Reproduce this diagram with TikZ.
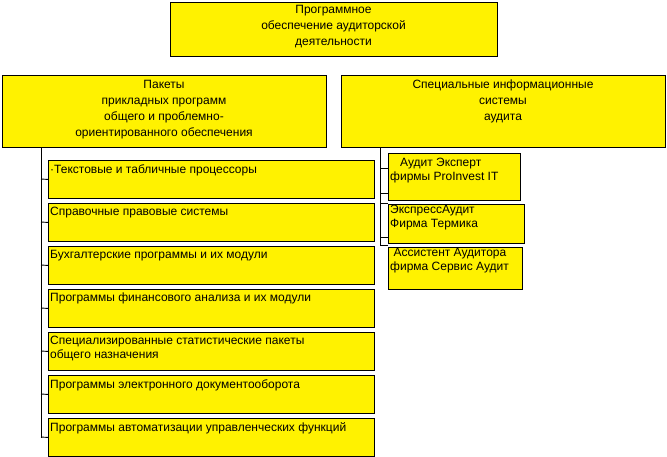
\documentclass[tikz,border=0pt]{standalone}
\usepackage{fontspec}
\setmainfont{Liberation Sans}
\begin{document}
\begin{tikzpicture}[x=1pt,y=-1pt,
  bx/.style={draw=black,line width=0.9pt,fill=yellow,anchor=north west,inner sep=0pt},
  tx/.style={font=\fontsize{12}{16}\selectfont,inner sep=0pt,align=center},
  lt/.style={font=\fontsize{12}{14}\selectfont,inner sep=0pt,anchor=north west,align=left},
  ln/.style={line width=0.9pt}]
\useasboundingbox (0,0) rectangle (667,456);
\fill[white] (0,0) rectangle (667,456);
\node[bx,minimum width=327,minimum height=54] (top) at (170,2) {};
\node[tx,anchor=north] at (333.5,5) {Программное\\обеспечение аудиторской\\деятельности};
\node[bx,minimum width=324,minimum height=72] (L) at (2,75) {};
\node[tx,anchor=north] at (164,80) {Пакеты\\прикладных программ\\общего и проблемно-\\ориентированного обеспечения};
\node[bx,minimum width=324,minimum height=72] (R) at (341,75) {};
\node[tx,anchor=north] at (503,80) {Специальные информационные\\системы\\аудита};
\foreach \t [count=\i from 0] in {{·Текстовые и табличные процессоры},{Справочные правовые системы},{Бухгалтерские программы и их модули},{Программы финансового анализа и их модули},{Специализированные статистические пакеты\\общего назначения},{Программы электронного документооборота},{Программы автоматизации управленческих функций}}{
  \node[bx,minimum width=326,minimum height=38] (l\i) at (48,160+43*\i) {};
  \node[lt] at (50,164+43*\i) {\t};
  \draw[ln] (41,179+43*\i) -- (l\i.west);
}
\draw[ln] (41,147) -- (41,437.5);
\node[bx,minimum width=132,minimum height=47] (r0) at (388,153) {};
\node[lt] at (390,158) {\ \ \ Аудит Эксперт\\фирмы ProInvest IT};
\node[bx,minimum width=136,minimum height=39] (r1) at (388,204) {};
\node[lt] at (390,205) {ЭкспрессАудит\\Фирма Термика};
\node[bx,minimum width=134,minimum height=42] (r2) at (388,247) {};
\node[lt] at (390,248) {\ Ассистент Аудитора\\фирма Сервис Аудит};
\draw[ln] (380,147) -- (380,245) -- (388,245);
\draw[ln] (380,168) -- (r0.west |- 0,168);
\draw[ln] (380,193) -- (r0.west |- 0,193);
\draw[ln] (380,203) -- (r1.west |- 0,203);
\draw[ln] (380,237) -- (r1.west |- 0,237);
\end{tikzpicture}
\end{document}
